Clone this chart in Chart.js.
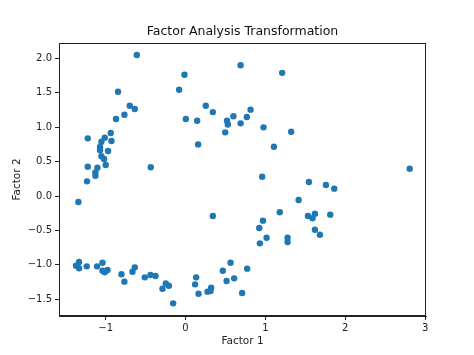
<!DOCTYPE html>
<html>
<head>
<meta charset="utf-8">
<script src="https://cdn.jsdelivr.net/npm/chart.js@4"></script>
<style>
  html, body { margin: 0; padding: 0; background: #fff; }
  #wrap { width: 474px; height: 355px; }
</style>
</head>
<body>
<div id="wrap"><canvas id="factorChart" width="474" height="355"></canvas></div>
<script>
// Data
const factor1 = [
  -0.61, -0.845, -0.698, -0.635, -0.765, -0.87, -0.936, -0.927, -1.011, -1.053,
  -1.07, -1.07, -0.97, -1.053, -1.02, -0.999, -1.103, -1.128, -1.128, -1.224,
  -1.224, -1.233, -0.435, -1.341,
  -0.08, -0.013, 0.254, 0.342, 0.004, 0.146, 0.158, 0.60, 0.52, 0.53,
  0.497, 0.69, 0.768, 0.814, 0.69, 0.977, 1.21, 1.323, 1.107, 0.96,
  2.807, 1.545, 1.758, 1.862, 1.416, 1.18, 0.969, 0.923, 0.931, 1.015,
  1.278, 1.278, 1.533, 1.62, 1.59, 1.812, 1.62, 1.683, 0.342,
  -1.371, -1.333, -1.333, -1.237, -1.108, -1.04, -1.04, -1.011, -0.977, -0.802,
  -0.765, -0.664, -0.635, -0.51, -0.439, -0.376, -0.247, -0.288, -0.209, -0.155,
  0.133, 0.12, 0.163, 0.276, 0.313, 0.321, 0.467, 0.564, 0.514, 0.609,
  0.772, 0.709
];
const factor2 = [
  2.05, 1.516, 1.313, 1.265, 1.182, 1.12, 0.916, 0.80, 0.848, 0.79,
  0.712, 0.664, 0.654, 0.577, 0.538, 0.45, 0.41, 0.344, 0.295, 0.838,
  0.426, 0.213, 0.417, -0.087,
  1.545, 1.763, 1.313, 1.22, 1.12, 1.095, 0.75, 1.16, 1.095, 1.04,
  0.925, 1.056, 1.148, 1.255, 1.90, 0.998, 1.79, 0.935, 0.717, 0.28,
  0.397, 0.203, 0.16, 0.107, -0.058, -0.237, -0.358, -0.465, -0.688, -0.606,
  -0.606, -0.669, -0.291, -0.257, -0.324, -0.271, -0.49, -0.562, -0.291,
  -1.013, -0.959, -1.051, -1.022, -1.022, -0.969, -1.086, -1.109, -1.075, -1.138,
  -1.245, -1.10, -1.037, -1.182, -1.148, -1.163, -1.27, -1.347, -1.304, -1.56,
  -1.182, -1.284, -1.42, -1.39, -1.38, -1.332, -1.086, -0.969, -1.235, -1.197,
  -1.056, -1.41
];
const xTicks = [-1, 0, 1, 2, 3];
const yTicks = [-1.5, -1.0, -0.5, 0.0, 0.5, 1.0, 1.5, 2.0];

const points = factor1.map((x, i) => ({ x: x, y: factor2[i] }));
const fmt = (v, d) => v.toFixed(d).replace('-', '\u2212');

// top/right spines like matplotlib, and title centred over the axes
const boxPlugin = {
  id: 'box',
  afterLayout(chart) {
    const t = chart.titleBlock, a = chart.chartArea;
    if (t) { t.left = a.left; t.right = a.right; t.width = a.right - a.left; }
  },
  afterDraw(chart) {
    const { ctx, chartArea: a } = chart;
    ctx.save();
    ctx.strokeStyle = '#222';
    ctx.lineWidth = 1;
    ctx.strokeRect(Math.round(a.left) + 0.5, Math.round(a.top) + 0.5,
      Math.round(a.right - a.left) - 1, Math.round(a.bottom - a.top) - 1);
    ctx.restore();
  }
};

Chart.defaults.font.family = '"DejaVu Sans", sans-serif';
Chart.defaults.color = '#222';

new Chart(document.getElementById('factorChart'), {
  type: 'scatter',
  data: {
    datasets: [{
      data: points,
      backgroundColor: '#1f77b4',
      borderWidth: 0,
      pointRadius: 3.2,
      pointHoverRadius: 3.2
    }]
  },
  options: {
    responsive: false,
    animation: false,
    layout: { padding: { left: 0, right: 48, top: 0, bottom: 0 } },
    scales: {
      x: {
        type: 'linear',
        min: -1.584,
        max: 3.011,
        afterBuildTicks: s => { s.ticks = xTicks.map(v => ({ value: v })); },
        afterFit: s => { s.height = 39; },
        ticks: { font: { size: 10 }, padding: 2, maxRotation: 0, callback: v => fmt(v, 0) },
        grid: { drawOnChartArea: false, tickLength: 4, color: '#222' },
        border: { color: '#222' },
        title: { display: true, text: 'Factor 1', font: { size: 10.5 }, padding: { top: 0, bottom: 7 } }
      },
      y: {
        type: 'linear',
        min: -1.744,
        max: 2.224,
        afterBuildTicks: s => { s.ticks = yTicks.map(v => ({ value: v })); },
        afterFit: s => { s.width = 59; },
        ticks: { font: { size: 10 }, padding: 3, callback: v => fmt(v, 1) },
        grid: { drawOnChartArea: false, tickLength: 4, color: '#222' },
        border: { color: '#222' },
        title: { display: true, text: 'Factor 2', font: { size: 10.5 }, padding: { top: 10.5, bottom: 0 } }
      }
    },
    plugins: {
      legend: { display: false },
      tooltip: { enabled: false },
      title: {
        display: true,
        text: 'Factor Analysis Transformation',
        font: { size: 12.5, weight: 'normal' },
        color: '#111',
        padding: { top: 24, bottom: 4 }
      }
    }
  },
  plugins: [boxPlugin]
});
</script>
</body>
</html>
